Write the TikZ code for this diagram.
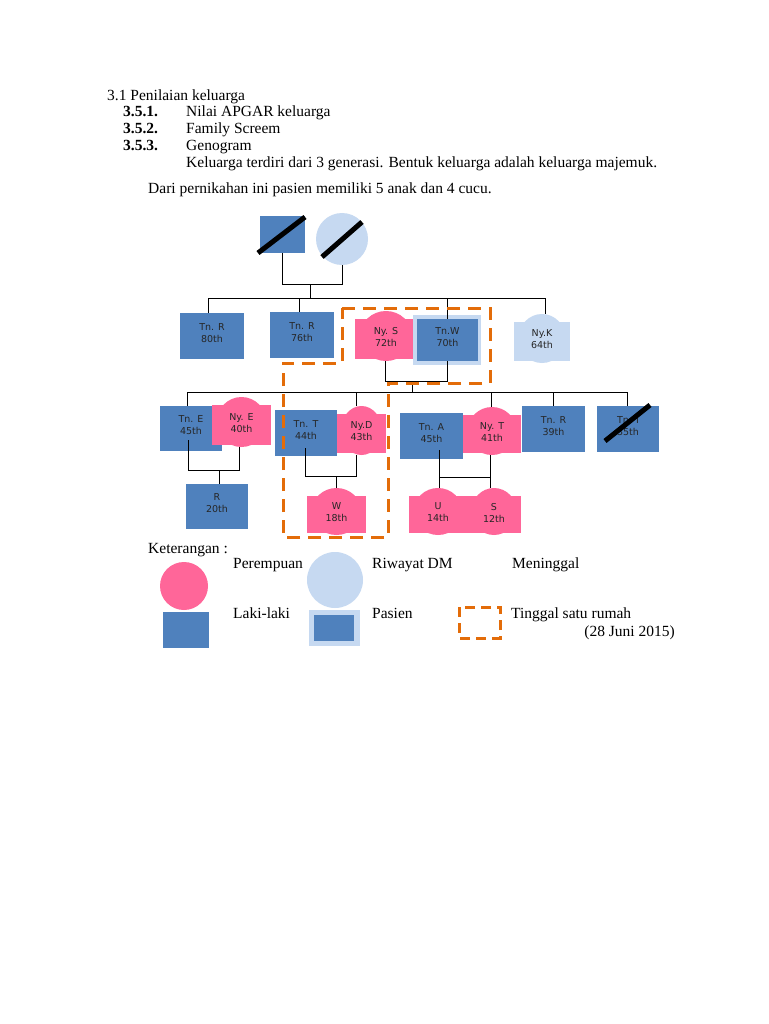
\documentclass[tikz,border=0pt]{standalone}
\usepackage{fontspec}
\setmainfont{Liberation Serif}
\newfontfamily\lblfont{DejaVu Sans}
\definecolor{mblue}{RGB}{79,129,189}
\definecolor{mpink}{RGB}{255,102,153}
\definecolor{mlight}{RGB}{198,217,241}
\definecolor{morange}{RGB}{227,108,9}
\tikzset{
  lbl/.style={font=\lblfont\fontsize{9.5}{12}\selectfont, align=center, text=black!85},
  body/.style={font=\fontsize{15.5}{17}\selectfont, anchor=base west, inner sep=0pt},
  conn/.style={black, line width=0.9pt},
  dead/.style={black, line width=5pt},
  home/.style={morange, line width=3pt, dash pattern=on 13pt off 8pt},
}
\newcommand{\malebox}[6]{%
  \fill[mblue] (#2,#3) rectangle (#4,#5);
  \node[lbl, minimum width={(#4-#2)*1pt}, minimum height={(#5-#3)*1pt}, inner sep=0pt] (#1) at ({(#2+#4)/2},{(#3+#5)/2-3}) {#6};}
\newcommand{\femalebox}[7]{%
  \fill[#6] (#2,{#3+0.16*(#5-#3)}) rectangle (#4,{#5-0.05*(#5-#3)});
  \fill[#6] ({(#2+#4)/2},{(#3+#5)/2}) ellipse ({0.42*(#4-#2)} and {0.5*(#5-#3)});
  \node[lbl, minimum width={(#4-#2)*1pt}, minimum height={(#5-#3)*1pt}, inner sep=0pt] (#1) at ({(#2+#4)/2},{(#3+#5)/2+1}) {#7};}
\begin{document}
\begin{tikzpicture}[x=1pt,y=-1pt]
\useasboundingbox (0,0) rectangle (768,1024);
\fill[white] (0,0) rectangle (768,1024);
% text
\node[body] (t1) at (107,101) {3.1 Penilaian keluarga};
\node[body] (t2a) at (123,117) {\textbf{3.5.1.}};
\node[body] (t2b) at (186,117) {Nilai APGAR keluarga};
\node[body] (t3a) at (123,134) {\textbf{3.5.2.}};
\node[body] (t3b) at (186,134) {Family Screem};
\node[body] (t4a) at (123,151) {\textbf{3.5.3.}};
\node[body] (t4b) at (186,151) {Genogram};
\node[body, text width=489pt, align=justify] (t5) at (186,168) {\parfillskip=0pt Keluarga terdiri dari 3 generasi. Bentuk keluarga adalah keluarga majemuk.};
\node[body] (t6) at (148,194) {Dari pernikahan ini pasien memiliki 5 anak dan 4 cucu.};
% generation 1
\fill[mblue] (260,216) rectangle (305,253);
\node[minimum width=45pt, minimum height=37pt, inner sep=0pt] (gf) at (282.5,234.5) {};
\fill[mlight] (342,239) circle (26);
\node[circle, minimum size=52pt, inner sep=0pt] (gm) at (342,239) {};
\draw[dead] (258,253) -- (305,217);
\draw[dead] (322,257) -- (362,222);
\draw[conn] (gf.south) -- (282.5,284) -- (342,284) -- (gm.south);
\draw[conn] (310,284) -- (310,298);
\draw[conn] (208,298) -- (545,298);
% generation 2
\malebox{r80}{180}{313}{244}{359}{Tn. R\\80th}
\malebox{r76}{270}{312}{334}{358}{Tn. R\\76th}
\femalebox{nys}{355}{311}{417}{361}{mpink}{Ny. S\\72th}
\fill[mlight] (413,315) rectangle (481,365);
\malebox{tnw}{417}{319}{478}{361}{Tn.W\\70th}
\femalebox{nyk}{514}{314}{570}{363}{mlight}{Ny.K\\64th}
\draw[conn] (208,298) -- (208,313);
\draw[conn] (299,298) -- (299,312);
\draw[conn] (545,298) -- (545,314);
\draw[conn] (447,298) -- (447,319);
\draw[conn] (385,361) -- (385,381) -- (447,381) -- (447,361);
\draw[conn] (412,381) -- (412,392);
\draw[conn] (187,392) -- (627,392);
% generation 3
\malebox{tne}{160}{406}{222}{451}{Tn. E\\45th}
\femalebox{nye}{212}{397}{271}{447}{mpink}{Ny. E\\40th}
\malebox{tnt}{275}{410}{337}{456}{Tn. T\\44th}
\femalebox{nyd}{337}{406}{386}{455}{mpink}{Ny.D\\43th}
\malebox{tna}{400}{413}{463}{459}{Tn. A\\45th}
\femalebox{nyt}{463}{407}{521}{455}{mpink}{Ny. T\\41th}
\malebox{r39}{522}{406}{585}{452}{Tn. R\\39th}
\malebox{tni}{597}{406}{659}{452}{Tn. I\\35th}
\draw[dead] (605,441) -- (650,405);
\draw[conn] (187,392) -- (187,406);
\draw[conn] (356,392) -- (356,406);
\draw[conn] (491,392) -- (491,407);
\draw[conn] (553,392) -- (553,406);
\draw[conn] (627,392) -- (627,406);
\draw[conn] (188,440) -- (188,470) -- (239,470) -- (239,447);
\draw[conn] (219,470) -- (219,484);
\draw[conn] (305,448) -- (305,476) -- (356,476) -- (356,455);
\draw[conn] (336,476) -- (336,488);
\draw[conn] (439,450) -- (439,477) -- (490,477) -- (490,455);
% generation 4
\malebox{r20}{186}{484}{248}{529}{R\\20th}
\femalebox{w}{307}{488}{366}{535}{mpink}{W\\18th}
\femalebox{u}{409}{488}{467}{535}{mpink}{U\\14th}
\femalebox{s}{467}{488}{521}{535}{mpink}{S\\12th}
\draw[conn] (439,477) -- (439,488);
\draw[conn] (490,477) -- (490,488);
% household
\draw[home] (342,308) -- (490,308) -- (490,383) -- (388,383) -- (388,537) -- (283,537) -- (283,363) -- (342,363) -- cycle;
% legend
\node[body] (ket) at (148,553) {Keterangan :};
\fill[mpink] (184,586) circle (24);
\fill[mblue] (163,612) rectangle (209,648);
\node[body] (lp) at (233,568) {Perempuan};
\fill[mlight] (335,580) circle (28);
\node[body] (lr) at (372,568) {Riwayat DM};
\node[body] (lm) at (512,568) {Meninggal};
\node[body] (ll) at (233,618) {Laki-laki};
\fill[mlight] (309,610) rectangle (360,646);
\fill[mblue] (314,615) rectangle (354,641);
\node[body] (lpa) at (372,618) {Pasien};
\draw[home, dash pattern=on 10pt off 6pt] (459,607) rectangle (500,638);
\node[body] (lt) at (511,618) {Tinggal satu rumah};
\node[body, anchor=base east] (ld) at (675,636) {(28 Juni 2015)};
\end{tikzpicture}
\end{document}
